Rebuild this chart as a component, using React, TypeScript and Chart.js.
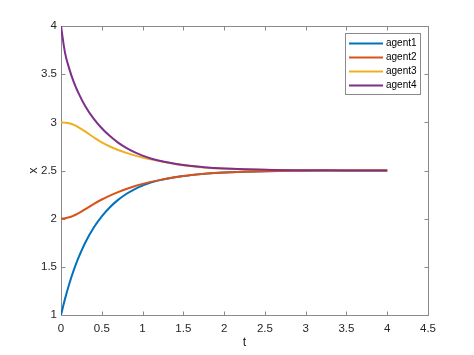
import React, { useEffect, useRef } from "react";
import { Chart, registerables } from "chart.js";

Chart.register(...registerables);

// time samples (t)
const tValues = [0, 0.05, 0.1, 0.15, 0.2, 0.3, 0.4, 0.5, 0.6, 0.7, 0.8, 0.9, 1.0, 1.1, 1.25, 1.5, 1.75, 2.0, 2.5, 3.0, 3.5, 4.0];

const agent1 = [1.0, 1.17, 1.32, 1.45, 1.565, 1.755, 1.905, 2.024, 2.119, 2.195, 2.256, 2.305, 2.344, 2.375, 2.406, 2.442, 2.465, 2.479, 2.4925, 2.4973, 2.499, 2.5];
const agent2 = [2.0, 2.004, 2.014, 2.03, 2.05, 2.1, 2.152, 2.199, 2.24, 2.276, 2.308, 2.336, 2.361, 2.382, 2.408, 2.444, 2.466, 2.48, 2.493, 2.4975, 2.4995, 2.5];
const agent3 = [3.0, 2.997, 2.99, 2.976, 2.956, 2.903, 2.845, 2.792, 2.749, 2.713, 2.683, 2.657, 2.635, 2.616, 2.591, 2.554, 2.532, 2.52, 2.507, 2.5025, 2.5005, 2.5];
const agent4 = [4.0, 3.719, 3.56, 3.433, 3.33, 3.164, 3.038, 2.938, 2.857, 2.789, 2.734, 2.69, 2.654, 2.625, 2.593, 2.556, 2.534, 2.521, 2.5075, 2.5027, 2.501, 2.5];

const seriesNames = ["agent1", "agent2", "agent3", "agent4"];
const seriesColors = ["#0072BD", "#D95319", "#EDB120", "#7E2F8E"];

const xTicks = [0, 0.5, 1, 1.5, 2, 2.5, 3, 3.5, 4, 4.5];
const yTicks = [1, 1.5, 2, 2.5, 3, 3.5, 4];

const xLabel = "t";
const yLabel = "x";

const FONT = "'Liberation Sans', Arial, Helvetica, sans-serif";
const AXIS_COLOR = "#8a8a8a";
const TEXT_COLOR = "#262626";

const boxPlugin = {
  id: "matlabBox",
  beforeDatasetsDraw(chart: any) {
    const { ctx, chartArea } = chart;
    const { left, right, top, bottom } = chartArea;
    const xs = chart.scales.x;
    const ys = chart.scales.y;
    ctx.save();
    ctx.strokeStyle = AXIS_COLOR;
    ctx.lineWidth = 1;
    ctx.beginPath();
    ctx.rect(left + 0.5, top + 0.5, right - left, bottom - top);
    ctx.stroke();
    const tl = 4;
    ctx.beginPath();
    xTicks.forEach((v) => {
      const p = Math.round(xs.getPixelForValue(v)) + 0.5;
      ctx.moveTo(p, bottom + 0.5);
      ctx.lineTo(p, bottom + 0.5 - tl);
      ctx.moveTo(p, top + 0.5);
      ctx.lineTo(p, top + 0.5 + tl);
    });
    yTicks.forEach((v) => {
      const p = Math.round(ys.getPixelForValue(v)) + 0.5;
      ctx.moveTo(left + 0.5, p);
      ctx.lineTo(left + 0.5 + tl, p);
      ctx.moveTo(right + 0.5, p);
      ctx.lineTo(right + 0.5 - tl, p);
    });
    ctx.stroke();
    ctx.restore();
  },
  afterDraw(chart: any) {
    const { ctx, chartArea } = chart;
    const w = 75;
    const h = 61;
    const bx = chartArea.right - 8 - w;
    const by = chartArea.top + 7;
    ctx.save();
    ctx.fillStyle = "#ffffff";
    ctx.fillRect(bx, by, w, h);
    ctx.strokeStyle = AXIS_COLOR;
    ctx.lineWidth = 1;
    ctx.strokeRect(bx + 0.5, by + 0.5, w, h);
    ctx.font = `10px ${FONT}`;
    ctx.textBaseline = "middle";
    ctx.textAlign = "left";
    chart.data.datasets.forEach((ds: any, i: number) => {
      const yy = by + 10.5 + i * 14;
      ctx.strokeStyle = ds.borderColor;
      ctx.lineWidth = 2;
      ctx.beginPath();
      ctx.moveTo(bx + 4, yy);
      ctx.lineTo(bx + 38, yy);
      ctx.stroke();
      ctx.fillStyle = "#000000";
      ctx.fillText(ds.label, bx + 41, yy);
    });
    ctx.restore();
  },
};

export default function App() {
  const canvasRef = useRef<HTMLCanvasElement | null>(null);

  useEffect(() => {
    if (!canvasRef.current) return;
    const series = [agent1, agent2, agent3, agent4];
    const datasets = series.map((arr, i) => ({
      label: seriesNames[i],
      data: tValues.map((t, k) => ({ x: t, y: arr[k] })),
      borderColor: seriesColors[i],
      backgroundColor: seriesColors[i],
      borderWidth: 2,
      pointRadius: 0,
      fill: false,
      tension: 0.4,
      order: series.length - 1 - i,
    }));

    const chart = new Chart(canvasRef.current, {
      type: "line",
      data: { datasets },
      options: {
        responsive: false,
        animation: false,
        devicePixelRatio: 1,
        layout: { padding: { left: 0, top: 26, right: 46, bottom: 0 } },
        plugins: {
          legend: { display: false },
          tooltip: { enabled: false },
        },
        scales: {
          x: {
            type: "linear",
            min: 0,
            max: 4.5,
            grid: { display: false, drawTicks: false },
            border: { display: false },
            ticks: {
              stepSize: 0.5,
              padding: 6.5,
              color: TEXT_COLOR,
              font: { family: FONT, size: 11.5 },
              maxRotation: 0,
              autoSkip: false,
              callback: (v: any) => String(Number(v)),
            },
            title: {
              display: true,
              text: xLabel,
              color: TEXT_COLOR,
              font: { family: FONT, size: 12.7 },
              padding: { top: 0, bottom: 4.5 },
            },
            afterFit: (scale: any) => {
              scale.height = 40;
            },
          },
          y: {
            type: "linear",
            min: 1,
            max: 4,
            grid: { display: false, drawTicks: false },
            border: { display: false },
            ticks: {
              stepSize: 0.5,
              padding: 4,
              color: TEXT_COLOR,
              font: { family: FONT, size: 11.5 },
              autoSkip: false,
              callback: (v: any) => String(Number(v)),
            },
            title: {
              display: true,
              text: yLabel,
              color: TEXT_COLOR,
              font: { family: FONT, size: 12.7 },
              padding: { top: 26, bottom: 0 },
            },
            afterFit: (scale: any) => {
              scale.width = 61;
            },
          },
        },
      },
      plugins: [boxPlugin],
    });

    return () => {
      chart.destroy();
    };
  }, []);

  return (
    <div style={{ position: "fixed", left: 0, top: 0, width: 474, height: 355, background: "#ffffff" }}>
      <canvas ref={canvasRef} width={474} height={355} style={{ display: "block" }} />
    </div>
  );
}
